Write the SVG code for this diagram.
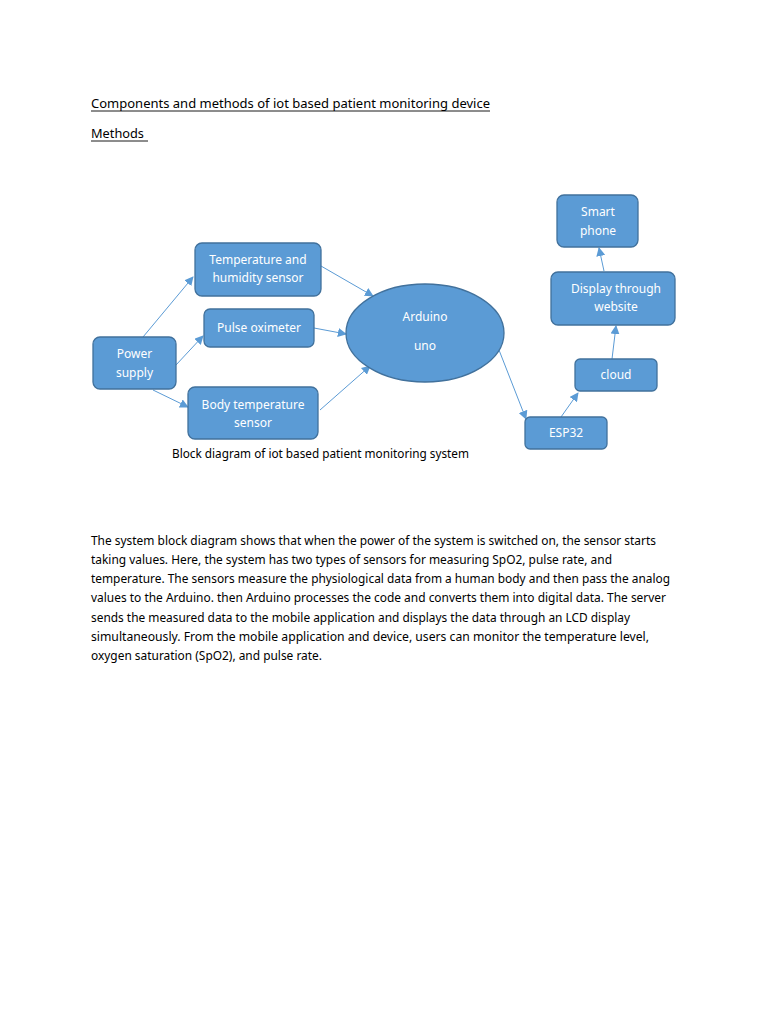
<svg xmlns="http://www.w3.org/2000/svg" width="768" height="1024" viewBox="0 0 768 1024">
<style>
.node rect, .node ellipse { fill: #5B9BD5; stroke: #41719C; stroke-width: 1.3; }
.node text { fill: #FFFFFF; font-family: "Noto Sans", "Open Sans", sans-serif; font-size: 12px; text-anchor: middle; }
.conn line { stroke: #5B9BD5; stroke-width: 1; }
.doc { fill: #000000; font-family: "Noto Sans", "Open Sans", sans-serif; font-size: 12.5px; }
.ul { stroke: #000000; stroke-width: 0.9; }
</style>
<defs>
<marker id="arr" viewBox="0 0 10 10" refX="9" refY="5" markerWidth="9" markerHeight="9" markerUnits="userSpaceOnUse" orient="auto">
<path d="M0,0 L10,5 L0,10 Z" fill="#5B9BD5"/>
</marker>
</defs>
<rect width="768" height="1024" fill="#FFFFFF"/>

<g id="heading">
<text class="doc" x="91" y="108" textLength="399" lengthAdjust="spacingAndGlyphs">Components and methods of iot based patient monitoring device</text>
<line class="ul" x1="91" y1="111" x2="490" y2="111"/>
<text class="doc" x="91" y="138" textLength="53" lengthAdjust="spacingAndGlyphs">Methods</text>
<line class="ul" x1="91" y1="141" x2="148" y2="141"/>
</g>

<g id="connectors" class="conn">
<line x1="143" y1="337" x2="193" y2="277" marker-end="url(#arr)"/>
<line x1="176" y1="365" x2="203" y2="336" marker-end="url(#arr)"/>
<line x1="153" y1="390" x2="188" y2="407" marker-end="url(#arr)"/>
<line x1="321" y1="266" x2="373" y2="296" marker-end="url(#arr)"/>
<line x1="314" y1="328" x2="346" y2="334" marker-end="url(#arr)"/>
<line x1="320" y1="410" x2="370" y2="366" marker-end="url(#arr)"/>
<line x1="499" y1="350" x2="526" y2="419" marker-end="url(#arr)"/>
<line x1="561" y1="417" x2="578" y2="393" marker-end="url(#arr)"/>
<line x1="612" y1="359" x2="616" y2="326" marker-end="url(#arr)"/>
<line x1="604" y1="271" x2="599" y2="248" marker-end="url(#arr)"/>
</g>

<g id="power-supply" class="node">
<rect x="93" y="337" width="83" height="52" rx="7"/>
<text x="134.5" y="358">Power</text>
<text x="134.5" y="377">supply</text>
</g>
<g id="temp-humidity" class="node">
<rect x="195" y="243" width="126" height="53" rx="7"/>
<text x="258" y="264">Temperature and</text>
<text x="258" y="282">humidity sensor</text>
</g>
<g id="pulse-oximeter" class="node">
<rect x="204" y="309" width="110" height="38" rx="6"/>
<text x="259" y="332">Pulse oximeter</text>
</g>
<g id="body-temp" class="node">
<rect x="188" y="387" width="130" height="52" rx="7"/>
<text x="253" y="409">Body temperature</text>
<text x="253" y="427">sensor</text>
</g>
<g id="arduino" class="node">
<ellipse cx="425" cy="333" rx="79" ry="49"/>
<text x="425" y="321">Arduino</text>
<text x="425" y="350">uno</text>
</g>
<g id="esp32" class="node">
<rect x="525" y="417" width="82" height="32" rx="5"/>
<text x="566" y="437">ESP32</text>
</g>
<g id="cloud" class="node">
<rect x="575" y="359" width="82" height="32" rx="5"/>
<text x="616" y="379">cloud</text>
</g>
<g id="display-website" class="node">
<rect x="551" y="272" width="124" height="53" rx="7"/>
<text x="616" y="293">Display through</text>
<text x="616" y="311">website</text>
</g>
<g id="smart-phone" class="node">
<rect x="557" y="195" width="81" height="52" rx="7"/>
<text x="598" y="216">Smart</text>
<text x="598" y="235">phone</text>
</g>

<g id="caption">
<text class="doc" x="172" y="458" textLength="297" lengthAdjust="spacingAndGlyphs">Block diagram of iot based patient monitoring system</text>
</g>

<g id="paragraph">
<text class="doc" x="91" y="545" textLength="565" lengthAdjust="spacingAndGlyphs">The system block diagram shows that when the power of the system is switched on, the sensor starts</text>
<text class="doc" x="91" y="564" textLength="521" lengthAdjust="spacingAndGlyphs">taking values. Here, the system has two types of sensors for measuring SpO2, pulse rate, and</text>
<text class="doc" x="91" y="583" textLength="579" lengthAdjust="spacingAndGlyphs">temperature. The sensors measure the physiological data from a human body and then pass the analog</text>
<text class="doc" x="91" y="602" textLength="575" lengthAdjust="spacingAndGlyphs">values to the Arduino. then Arduino processes the code and converts them into digital data. The server</text>
<text class="doc" x="91" y="622" textLength="539" lengthAdjust="spacingAndGlyphs">sends the measured data to the mobile application and displays the data through an LCD display</text>
<text class="doc" x="91" y="641" textLength="558" lengthAdjust="spacingAndGlyphs">simultaneously. From the mobile application and device, users can monitor the temperature level,</text>
<text class="doc" x="91" y="660" textLength="231" lengthAdjust="spacingAndGlyphs">oxygen saturation (SpO2), and pulse rate.</text>
</g>
</svg>
